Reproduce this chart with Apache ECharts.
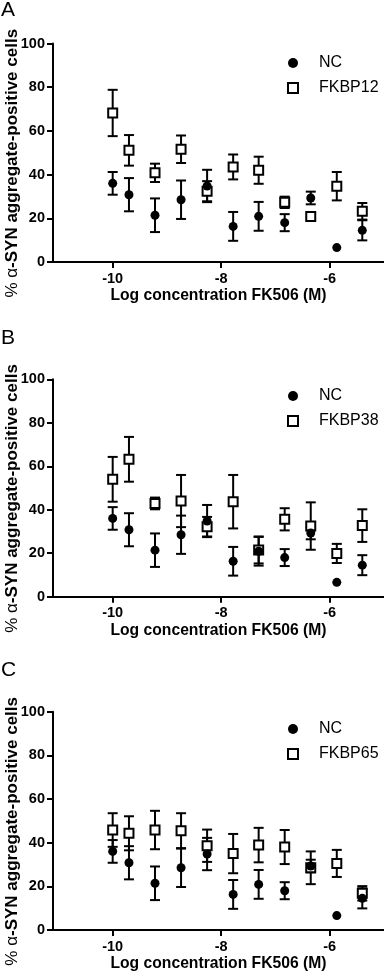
<!DOCTYPE html>
<html>
<head>
<meta charset="utf-8">
<script src="https://cdn.jsdelivr.net/npm/echarts@6/dist/echarts.min.js"></script>
<style>html,body{margin:0;padding:0;background:#fff}#c{width:384px;height:976px}</style>
</head>
<body>
<div id="c"></div>
<script>
// Log concentration FK506 (M)
const xLog = [-10, -9.70, -9.22, -8.74, -8.26, -7.78, -7.31, -6.83, -6.35, -5.87, -5.40];
const xTicks = [-10, -8, -6];
const yTicks = [0, 20, 40, 60, 80, 100];
// NC (same in all panels)
const ncMean = [36.0, 30.8, 21.4, 28.5, 34.8, 16.3, 20.9, 18.0, 29.3, 6.6, 14.5];
const ncSem  = [5.2, 7.6, 7.7, 8.8, 7.4, 6.6, 6.6, 3.9, 2.9, 0, 4.6];
// Panel A
const fkbp12Mean = [68.2, 51.1, 40.8, 51.6, 32.4, 43.5, 42.0, 27.3, 20.8, 34.7, 23.2];
const fkbp12Sem  = [10.6, 7.0, 4.2, 6.3, 4.6, 5.7, 6.2, 2.6, 0, 6.5, 3.8];
// Panel B
const fkbp38Mean = [54.0, 63.2, 42.9, 44.0, 32.2, 43.7, 21.5, 35.6, 32.5, 19.9, 32.7];
const fkbp38Sem  = [10.3, 10.3, 2.7, 12.0, 4.5, 12.3, 6.2, 5.1, 10.9, 4.4, 7.5];
// Panel C
const fkbp65Mean = [45.8, 44.3, 45.8, 45.5, 38.6, 35.0, 38.9, 38.0, 28.5, 30.5, 16.8];
const fkbp65Sem  = [7.7, 7.8, 8.8, 8.0, 7.4, 9.0, 7.9, 7.8, 7.5, 6.2, 3.3];
const yTitle = '{n|% α}{b|-SYN aggregate-positive cells}';

const panels = [
  {letter: 'A', name: 'FKBP12', mean: fkbp12Mean, sem: fkbp12Sem, top: 43.5, height: 218.5, letterTop: 0, legendTop: 50},
  {letter: 'B', name: 'FKBP38', mean: fkbp38Mean, sem: fkbp38Sem, top: 379.3, height: 217.4, letterTop: 328, legendTop: 383},
  {letter: 'C', name: 'FKBP65', mean: fkbp65Mean, sem: fkbp65Sem, top: 711.7, height: 218.3, letterTop: 660, legendTop: 716}
];

const FONT = '"Liberation Sans", Arial, sans-serif';

function errRender(params, api) {
  const x = api.value(0), m = api.value(1), s = api.value(2);
  if (!s) return null;
  const top = api.coord([x, m + s]);
  const bot = api.coord([x, m - s]);
  const hw = 5;
  const st = {stroke: '#000', lineWidth: 2};
  return {type: 'group', children: [
    {type: 'line', shape: {x1: top[0], y1: top[1], x2: bot[0], y2: bot[1]}, style: st},
    {type: 'line', shape: {x1: top[0]-hw, y1: top[1], x2: top[0]+hw, y2: top[1]}, style: st},
    {type: 'line', shape: {x1: bot[0]-hw, y1: bot[1], x2: bot[0]+hw, y2: bot[1]}, style: st}
  ]};
}

const grid = [], xAxis = [], yAxis = [], series = [], legend = [], title = [], graphic = [];
panels.forEach((p, i) => {
  grid.push({left: 53, right: 0, top: p.top, height: p.height, outerBoundsMode: 'none'});
  xAxis.push({
    type: 'value', gridIndex: i, min: -11.1, max: -5,
    name: 'Log concentration FK506 (M)', nameLocation: 'middle', nameGap: 26,
    nameTextStyle: {fontFamily: FONT, fontWeight: 'bold', fontSize: 15.7, color: '#000'},
    axisLine: {lineStyle: {color: '#000', width: 2}},
    axisTick: {show: true, length: 6, lineStyle: {color: '#000', width: 2}, customValues: xTicks},
    axisLabel: {customValues: xTicks, margin: 9, fontFamily: FONT, fontWeight: 'bold', fontSize: 14.5, color: '#000'},
    splitLine: {show: false}
  });
  yAxis.push({
    type: 'value', gridIndex: i, min: 0, max: 100, interval: 20,
    axisLine: {show: true, lineStyle: {color: '#000', width: 2}},
    axisTick: {show: true, length: 6, lineStyle: {color: '#000', width: 2}},
    axisLabel: {margin: 8, fontFamily: FONT, fontWeight: 'bold', fontSize: 14.5, color: '#000'},
    splitLine: {show: false}
  });
  series.push({
    type: 'custom', xAxisIndex: i, yAxisIndex: i, renderItem: errRender, silent: true,
    data: xLog.map((x, k) => [x, p.mean[k], p.sem[k]])
  });
  series.push({
    type: 'scatter', name: p.name, xAxisIndex: i, yAxisIndex: i, symbol: 'rect', symbolSize: 9,
    itemStyle: {color: '#fff', borderColor: '#000', borderWidth: 2, opacity: 1},
    data: xLog.map((x, k) => [x, p.mean[k]])
  });
  series.push({
    type: 'custom', xAxisIndex: i, yAxisIndex: i, renderItem: errRender, silent: true,
    data: xLog.map((x, k) => [x, ncMean[k], ncSem[k]])
  });
  series.push({
    type: 'scatter', name: 'NC', xAxisIndex: i, yAxisIndex: i, symbol: 'circle', symbolSize: 9,
    itemStyle: {color: '#000', opacity: 1},
    data: xLog.map((x, k) => [x, ncMean[k]])
  });
  legend.push({
    data: ['NC', p.name], orient: 'vertical', left: 282, top: p.legendTop,
    itemWidth: 10, itemHeight: 10, itemGap: 9, selectedMode: false,
    textStyle: {fontFamily: FONT, fontSize: 16, color: '#000', padding: [0, 0, 0, 16]}
  });
  title.push({text: p.letter, left: 1, top: p.letterTop, padding: 0,
    textStyle: {fontFamily: FONT, fontSize: 21, fontWeight: 'normal', color: '#000'}});
  graphic.push({
    type: 'text', x: 12, y: p.top + p.height / 2 + 10.5, rotation: Math.PI / 2,
    style: {text: yTitle, align: 'center', verticalAlign: 'middle', fill: '#000',
      rich: {n: {fontFamily: FONT, fontSize: 17, fontWeight: 'normal', fill: '#000'},
             b: {fontFamily: FONT, fontSize: 17, fontWeight: 'bold', fill: '#000'}}}
  });
});

const chart = echarts.init(document.getElementById('c'));
chart.setOption({animation: false, title, grid, xAxis, yAxis, series, legend, graphic});
</script>
</body>
</html>
